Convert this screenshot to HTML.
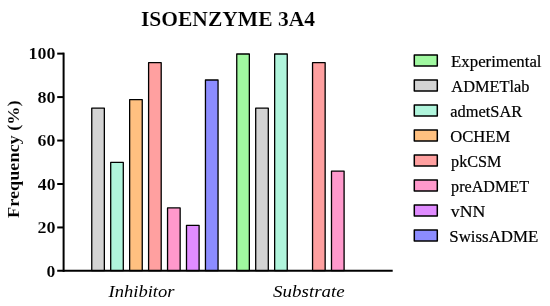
<!DOCTYPE html><html><head><meta charset="utf-8"><title>ISOENZYME 3A4</title><style>html,body{margin:0;padding:0;background:#fff}svg{display:block}text{font-family:"Liberation Serif","DejaVu Serif",serif;fill:#000}</style></head><body>
<svg width="550" height="306" viewBox="0 0 550 306">
<rect width="550" height="306" fill="#fff"/>
<rect x="91.75" y="108.21" width="12.6" height="162.34" fill="#d3d3d3" stroke="#000" stroke-width="1.3" stroke-linejoin="round"/>
<rect x="110.70" y="162.43" width="12.6" height="108.13" fill="#b0f5dc" stroke="#000" stroke-width="1.3" stroke-linejoin="round"/>
<rect x="129.65" y="99.54" width="12.6" height="171.01" fill="#ffc080" stroke="#000" stroke-width="1.3" stroke-linejoin="round"/>
<rect x="148.60" y="62.67" width="12.6" height="207.88" fill="#ffa0a0" stroke="#000" stroke-width="1.3" stroke-linejoin="round"/>
<rect x="167.55" y="207.96" width="12.6" height="62.59" fill="#ff99cc" stroke="#000" stroke-width="1.3" stroke-linejoin="round"/>
<rect x="186.50" y="225.31" width="12.6" height="45.24" fill="#e08cff" stroke="#000" stroke-width="1.3" stroke-linejoin="round"/>
<rect x="205.45" y="80.02" width="12.6" height="190.53" fill="#8c8cff" stroke="#000" stroke-width="1.3" stroke-linejoin="round"/>
<rect x="236.75" y="54.00" width="12.6" height="216.55" fill="#a0f8a0" stroke="#000" stroke-width="1.3" stroke-linejoin="round"/>
<rect x="255.70" y="108.21" width="12.6" height="162.34" fill="#d3d3d3" stroke="#000" stroke-width="1.3" stroke-linejoin="round"/>
<rect x="274.65" y="54.00" width="12.6" height="216.55" fill="#b0f5dc" stroke="#000" stroke-width="1.3" stroke-linejoin="round"/>
<rect x="312.55" y="62.67" width="12.6" height="207.88" fill="#ffa0a0" stroke="#000" stroke-width="1.3" stroke-linejoin="round"/>
<rect x="331.50" y="171.10" width="12.6" height="99.45" fill="#ff99cc" stroke="#000" stroke-width="1.3" stroke-linejoin="round"/>
<path d="M63.6 52.63V271.85" stroke="#000" stroke-width="2" fill="none"/>
<path d="M57.2 270.85H392.7" stroke="#000" stroke-width="2" fill="none"/>
<path d="M57.2 227.45H63.6" stroke="#000" stroke-width="2" fill="none"/>
<path d="M57.2 183.99H63.6" stroke="#000" stroke-width="2" fill="none"/>
<path d="M57.2 140.54H63.6" stroke="#000" stroke-width="2" fill="none"/>
<path d="M57.2 97.08H63.6" stroke="#000" stroke-width="2" fill="none"/>
<path d="M57.2 53.63H63.6" stroke="#000" stroke-width="2" fill="none"/>
<rect x="414.3" y="55.10" width="23" height="10.8" fill="#a0f8a0" stroke="#000" stroke-width="1.5" stroke-linejoin="round"/>
<rect x="414.3" y="80.10" width="23" height="10.8" fill="#d3d3d3" stroke="#000" stroke-width="1.5" stroke-linejoin="round"/>
<rect x="414.3" y="105.10" width="23" height="10.8" fill="#b0f5dc" stroke="#000" stroke-width="1.5" stroke-linejoin="round"/>
<rect x="414.3" y="130.10" width="23" height="10.8" fill="#ffc080" stroke="#000" stroke-width="1.5" stroke-linejoin="round"/>
<rect x="414.3" y="155.10" width="23" height="10.8" fill="#ffa0a0" stroke="#000" stroke-width="1.5" stroke-linejoin="round"/>
<rect x="414.3" y="180.10" width="23" height="10.8" fill="#ff99cc" stroke="#000" stroke-width="1.5" stroke-linejoin="round"/>
<rect x="414.3" y="205.10" width="23" height="10.8" fill="#e08cff" stroke="#000" stroke-width="1.5" stroke-linejoin="round"/>
<rect x="414.3" y="230.10" width="23" height="10.8" fill="#8c8cff" stroke="#000" stroke-width="1.5" stroke-linejoin="round"/>
<text x="140.88" y="25.55" font-size="22" font-weight="bold" stroke="#fff" stroke-width="0.14" textLength="174.19" lengthAdjust="spacingAndGlyphs">ISOENZYME 3A4</text>
<text x="46.40" y="277.00" font-size="17.3" font-weight="bold" stroke="#fff" stroke-width="0.1" textLength="8.85" lengthAdjust="spacingAndGlyphs">0</text>
<text x="37.40" y="233.42" font-size="17.3" font-weight="bold" stroke="#fff" stroke-width="0.1" textLength="18.11" lengthAdjust="spacingAndGlyphs">20</text>
<text x="37.80" y="189.84" font-size="17.3" font-weight="bold" stroke="#fff" stroke-width="0.1" textLength="17.66" lengthAdjust="spacingAndGlyphs">40</text>
<text x="37.60" y="146.26" font-size="17.3" font-weight="bold" stroke="#fff" stroke-width="0.1" textLength="17.88" lengthAdjust="spacingAndGlyphs">60</text>
<text x="37.40" y="102.68" font-size="17.3" font-weight="bold" stroke="#fff" stroke-width="0.1" textLength="18.10" lengthAdjust="spacingAndGlyphs">80</text>
<text x="28.60" y="59.10" font-size="17.3" font-weight="bold" stroke="#fff" stroke-width="0.1" textLength="26.97" lengthAdjust="spacingAndGlyphs">100</text>
<text x="108.50" y="297.00" font-size="17.6" font-style="italic" textLength="66.00" lengthAdjust="spacingAndGlyphs">Inhibitor</text>
<text x="273.12" y="297.00" font-size="17.6" font-style="italic" textLength="71.63" lengthAdjust="spacingAndGlyphs">Substrate</text>
<text x="451.14" y="66.60" font-size="15.8" stroke="#000" stroke-width="0.2" textLength="90.38" lengthAdjust="spacingAndGlyphs">Experimental</text>
<text x="451.34" y="91.60" font-size="15.8" stroke="#000" stroke-width="0.2" textLength="78.06" lengthAdjust="spacingAndGlyphs">ADMETlab</text>
<text x="450.26" y="116.60" font-size="15.8" stroke="#000" stroke-width="0.2" textLength="71.88" lengthAdjust="spacingAndGlyphs">admetSAR</text>
<text x="450.26" y="141.60" font-size="15.8" stroke="#000" stroke-width="0.2" textLength="59.97" lengthAdjust="spacingAndGlyphs">OCHEM</text>
<text x="451.14" y="166.60" font-size="15.8" stroke="#000" stroke-width="0.2" textLength="50.40" lengthAdjust="spacingAndGlyphs">pkCSM</text>
<text x="451.14" y="191.60" font-size="15.8" stroke="#000" stroke-width="0.2" textLength="77.86" lengthAdjust="spacingAndGlyphs">preADMET</text>
<text x="450.86" y="216.60" font-size="15.8" stroke="#000" stroke-width="0.2" textLength="34.52" lengthAdjust="spacingAndGlyphs">vNN</text>
<text x="449.34" y="241.60" font-size="15.8" stroke="#000" stroke-width="0.2" textLength="88.97" lengthAdjust="spacingAndGlyphs">SwissADME</text>
<text transform="translate(19.1 217.90) rotate(-90)" font-size="17" font-weight="bold" stroke="#fff" stroke-width="0.1" textLength="117.53" lengthAdjust="spacingAndGlyphs">Frequency (%)</text>
</svg></body></html>
